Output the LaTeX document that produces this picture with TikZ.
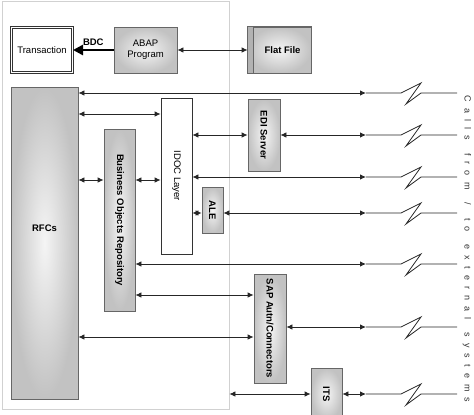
\documentclass[tikz,border=0pt]{standalone}
\usepackage{fontspec}
\setmainfont{Liberation Sans}
\usepackage{graphicx}
\usetikzlibrary{arrows.meta}

\begin{document}
\begin{tikzpicture}[x=1pt,y=-1pt,
  every node/.style={font=\fontsize{9.5}{11}\selectfont, inner sep=0pt},
  box/.style={draw=black!60, line width=0.8pt, shade, inner color=black!4, outer color=black!24},
  plainbox/.style={draw=black!80, line width=0.8pt, fill=white},
  link/.style={{Latex[length=6pt,width=5.5pt]}-{Latex[length=6pt,width=5.5pt]}, line width=0.8pt, draw=black!85},
  brk/.style={line width=0.8pt, draw=black!85}]
\useasboundingbox (0,0) rectangle (474,415);

% left panel
\node[draw=black!18, line width=0.8pt, minimum width=227pt, minimum height=408pt] (panel) at (115.5,205) {};

% boxes
\node[plainbox, double=white, double distance=1.2pt, line width=1pt, minimum width=61pt, minimum height=45pt] (trans) at (42,50) {Transaction};
\node[box, minimum width=63pt, minimum height=46pt, align=center] (abap) at (145.5,50) {ABAP\\Program};
\node[box, minimum width=63pt, minimum height=46pt, font=\fontsize{9.5}{11}\selectfont\bfseries] (flat) at (279.5,50) {\hspace{6pt}Flat File};
\fill[black!30] (flat.north west) rectangle ([xshift=6pt]flat.south west);
\draw[black!60, line width=0.8pt] (flat.north west) rectangle (flat.south east);
\draw[black!60, line width=0.8pt] ([xshift=6pt]flat.north west) -- ([xshift=6pt]flat.south west);

\node[box, minimum width=67pt, minimum height=312pt, font=\fontsize{9.5}{11}\selectfont\bfseries] (rfc) at (44.5,243) {\raisebox{12pt}[0pt][0pt]{RFCs}};
\node[box, minimum width=31pt, minimum height=182pt, font=\fontsize{9.5}{11}\selectfont\bfseries] (bor) at (119.5,220) {\rotatebox{-90}{Business Objects Repository}};
\node[plainbox, minimum width=31pt, minimum height=156pt] (idoc) at (176.5,176) {\rotatebox{-90}{IDOC Layer}};
\node[box, minimum width=21pt, minimum height=46pt, font=\fontsize{9.5}{11}\selectfont\bfseries] (ale) at (212.5,210) {\rotatebox{-90}{ALE}};
\node[box, minimum width=32pt, minimum height=72pt, font=\fontsize{9.5}{11}\selectfont\bfseries] (edi) at (264,135) {\rotatebox{-90}{EDI Server}};
\node[box, minimum width=32pt, minimum height=109pt, font=\fontsize{9.5}{11}\selectfont\bfseries] (sap) at (270,328.5) {\rotatebox{-90}{SAP Autn/Connectors}};
\node[box, minimum width=31pt, minimum height=52pt, font=\fontsize{9.5}{11}\selectfont\bfseries] (its) at (326.5,394) {\rotatebox{-90}{ITS}};

\node[rotate=-90, font=\fontsize{9}{11}\selectfont, text=black!80] (calls) at (467,249) {\addfontfeature{LetterSpace=68}Calls\hspace{13pt}from\hspace{13pt}/\hspace{13pt}to\hspace{13pt}external\hspace{13pt}systems};

% calls from / to outside
\foreach \n/\y in {1/93,2/135,3/177,4/213,5/264,6/327,7/394}
  \coordinate (ext\n) at (366,\y);
\foreach \n in {1,...,7}
  \draw[brk] (ext\n) -- ++(35,0) -- ++(20,-10) -- ++(-15,21) -- ++(15,-11) -- ++(36,0);

% connectors
\draw[line width=2.5pt, -{Triangle[length=10pt,width=10pt]}] (abap.west) -- (trans.east)
  node[midway, above=3pt, font=\fontsize{9.5}{11}\selectfont\bfseries] (bdc) {BDC};
\draw[link] (abap) -- (flat);
\draw[link] (rfc.east |- ext1) -- (ext1);
\draw[link] (rfc.east |- 0,114) -- (idoc.west |- 0,114);
\draw[link] (idoc.east |- edi) -- (edi.west);
\draw[link] (edi.east) -- (ext2);
\draw[link] (idoc.east |- ext3) -- (ext3);
\draw[link] (rfc.east |- 0,180) -- (bor.west |- 0,180);
\draw[link] (bor.east |- 0,180) -- (idoc.west |- 0,180);
\draw[link] (idoc.east |- ext4) -- (ale.west |- ext4);
\draw[link] (ale.east |- ext4) -- (ext4);
\draw[link] (bor.east |- ext5) -- (ext5);
\draw[link] (bor.east |- 0,295) -- (sap.west |- 0,295);
\draw[link] (sap.east |- ext6) -- (ext6);
\draw[link] (rfc.east |- 0,337) -- (sap.west |- 0,337);
\draw[link] (panel.east |- its) -- (its.west);
\draw[link] (its.east) -- (ext7);
\end{tikzpicture}
\end{document}
